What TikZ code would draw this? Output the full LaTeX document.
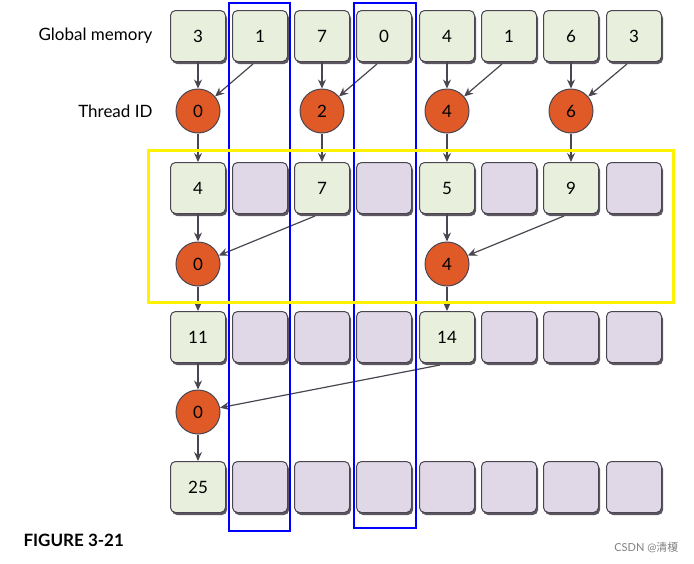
\documentclass[tikz,border=0pt]{standalone}
\usepackage{fontspec}
\setmainfont{Lato}
\newfontfamily\cjk{Noto Sans CJK SC}
\usetikzlibrary{arrows.meta,shadows}
\definecolor{gbox}{HTML}{E8EFDC}
\definecolor{pbox}{HTML}{E0D8E6}
\definecolor{edge}{HTML}{4A4550}
\definecolor{thr}{HTML}{E05A28}
\begin{document}
\begin{tikzpicture}[x=1pt,y=-1pt,
 box/.style={draw=edge,line width=1pt,rounded corners=5pt,minimum width=55pt,minimum height=51pt,font=\fontsize{17}{20}\selectfont,
   drop shadow={shadow xshift=1.5pt,shadow yshift=-2.5pt,fill=edge,opacity=0.9}},
 g/.style={box,fill=gbox},
 p/.style={box,fill=pbox},
 th/.style={circle,draw=edge,line width=1pt,fill=thr,minimum size=44pt,inner sep=0pt,font=\fontsize{17}{20}\selectfont},
 ar/.style={draw=edge,line width=1.2pt,-{Stealth[length=9pt,width=8pt]}},
 lbl/.style={font=\fontsize{17}{20}\selectfont,anchor=east}]
\useasboundingbox (0,0) rectangle (694,563);
\def\xs{{198,260,322,384,447,509,571,634}}
% row 0
\foreach \v [count=\i from 0] in {3,1,7,0,4,1,6,3}{
  \pgfmathsetmacro\xx{\xs[\i]}
  \node[g] (a\i) at (\xx,36) {\v};}
\node[lbl] (gm) at (156,36) {Global memory};
\node[lbl] (tid) at (156,111) {Thread ID};
\foreach \v [count=\i from 0] in {0,2,4,6}{
  \pgfmathsetmacro\xx{\xs[2*\i]}
  \node[th] (t\i) at (\xx,111) {\v};}
% row 2
\node[g] (b0) at (198,188) {4};
\node[p] (b1) at (260,188) {};
\node[g] (b2) at (322,188) {7};
\node[p] (b3) at (384,188) {};
\node[g] (b4) at (447,188) {5};
\node[p] (b5) at (509,188) {};
\node[g] (b6) at (571,188) {9};
\node[p] (b7) at (634,188) {};
\node[th] (u0) at (198,264) {0};
\node[th] (u1) at (447,264) {4};
% row 4
\node[g] (c0) at (198,337) {11};
\node[g] (c4) at (447,337) {14};
\foreach \i in {1,2,3,5,6,7}{\pgfmathsetmacro\xx{\xs[\i]}\node[p] (c\i) at (\xx,337) {};}
\node[th] (w0) at (198,412) {0};
% row 6
\node[g] (d0) at (198,487) {25};
\foreach \i in {1,...,7}{\pgfmathsetmacro\xx{\xs[\i]}\node[p] (d\i) at (\xx,487) {};}
% arrows
\foreach \s/\t in {0/0,2/1,4/2,6/3}{\draw[ar] (a\s) -- (t\t);}
\foreach \s/\t in {1/0,3/1,5/2,7/3}{\draw[ar] ([xshift=-7pt,yshift=-2pt]a\s.south) -- (t\t);}
\draw[ar] (t0) -- (b0); \draw[ar] (t1) -- (b2); \draw[ar] (t2) -- (b4); \draw[ar] (t3) -- (b6);
\draw[ar] (b0) -- (u0); \draw[ar] ([xshift=-7pt,yshift=-2pt]b2.south) -- (u0);
\draw[ar] (b4) -- (u1); \draw[ar] ([xshift=-7pt,yshift=-2pt]b6.south) -- (u1);
\draw[ar] (u0) -- (c0); \draw[ar] (u1) -- (c4);
\draw[ar] (c0) -- (w0); \draw[ar] ([xshift=-7pt,yshift=-2pt]c4.south) -- (w0);
\draw[ar] (w0) -- (d0);
% highlights
\draw[blue,line width=2.5pt] (229,3) rectangle (290,531);
\draw[blue,line width=2.5pt] (354,3) rectangle (416,528);
\draw[yellow,line width=3pt] (148,150) rectangle (673,302);
\node[font=\fontsize{17}{20}\selectfont\bfseries,anchor=west] (fig) at (20,540) {FIGURE 3-21};
\node[font=\fontsize{11}{13}\selectfont,text=gray,anchor=east] (csdn) at (682,548) {CSDN @{\cjk 清榎}};
\end{tikzpicture}
\end{document}
